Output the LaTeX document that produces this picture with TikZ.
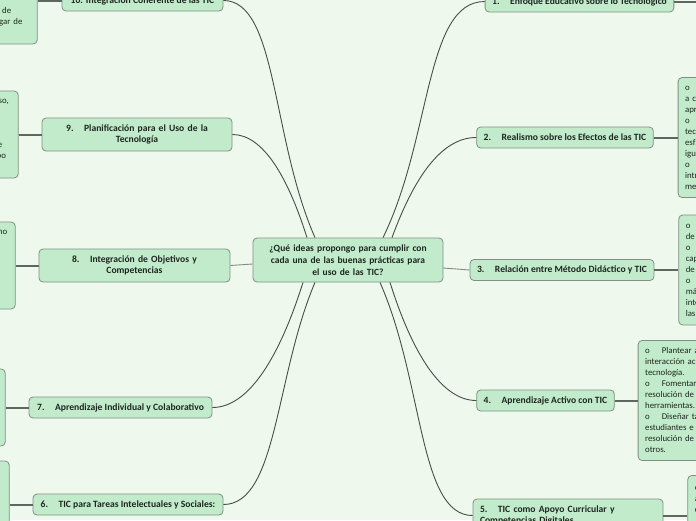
\documentclass[tikz,border=0pt]{standalone}
\usepackage{fontspec}
\setmainfont{Carlito}
\usetikzlibrary{positioning}

\definecolor{bgcol}{RGB}{239,248,236}
\definecolor{boxfill}{RGB}{193,235,203}
\definecolor{boxline}{RGB}{126,145,130}
\definecolor{stemcol}{RGB}{92,104,95}
\definecolor{curvecol}{RGB}{70,78,72}
\definecolor{sidecol}{RGB}{130,140,132}
\definecolor{txtcol}{RGB}{30,38,32}

\newcommand{\nr}[1]{#1.\hspace{10.5pt}}

\begin{document}
\begin{tikzpicture}[x=1pt,y=-1pt,
    topic/.style={draw=boxline, fill=boxfill, rounded corners=4pt, line width=0.8pt,
      text=txtcol, font=\bfseries\fontsize{9.6}{11}\selectfont, inner xsep=7pt,
      minimum height=21pt, align=center},
    question/.style={topic, font=\bfseries\fontsize{9.5}{12}\selectfont,
      text width=176pt, minimum height=44pt},
    detail/.style={draw=boxline, fill=boxfill, rounded corners=4pt, line width=0.8pt,
      text=txtcol, font=\fontsize{8.8}{11}\selectfont, inner xsep=7pt,
      text width=90pt, align=left, execute at begin node=\strut, execute at end node=\strut},
    link/.style={draw=curvecol, line width=0.9pt},
    side/.style={draw=sidecol, line width=0.9pt},
    stem/.style={draw=stemcol, line width=2pt}]

    \useasboundingbox (0,0) rectangle (696,520);
    \fill [bgcol] (0,0) rectangle (696,520);

    \node (q) [question] at (348,260) {¿Qué ideas propongo para cumplir con\\cada una de las buenas prácticas para\\el uso de las TIC?};

    % right side
    \node (t1) [topic, minimum width=187pt] at (579.5,1.5) {\nr{1}Enfoque Educativo sobre lo Tecnológico};
    \node (t2) [topic, minimum width=176pt] at (565,137.5) {\nr{2}Realismo sobre los Efectos de las TIC};
    \node (t3) [topic, minimum width=182pt] at (562,270) {\nr{3}Relación entre Método Didáctico y TIC};
    \node (t4) [topic, minimum width=137pt] at (545.5,400.5) {\nr{4}Aprendizaje Activo con TIC};
    \node (t5) [topic, text width=176pt, align=left, minimum height=33pt] at (568,515.5) {\nr{5}TIC como Apoyo Curricular y\\Competencias Digitales};

    % left side
    \node (t6) [topic, minimum width=190pt] at (128,504.5) {\nr{6}TIC para Tareas Intelectuales y Sociales:};
    \node (t7) [topic, minimum width=183pt] at (120.5,407.5) {\nr{7}Aprendizaje Individual y Colaborativo};
    \node (t8) [topic, text width=177pt, minimum height=33pt] at (134.5,265.5) {\nr{8}Integración de Objetivos y\\Competencias};
    \node (t9) [topic, text width=176pt, minimum height=33pt] at (137,134.5) {\nr{9}Planificación para el Uso de la\\Tecnología};
    \node (t10) [topic, minimum width=161pt] at (142.5,0.5) {10.\hspace{3pt}Integración Coherente de las TIC};

    % details
    \coordinate [right=27pt of t1] (d1);
    \node (d2) [detail, minimum height=120pt, right=24pt of t2] {o\\a c\\apr\\o\\tec\\esf\\igu\\o\\intr\\me};
    \node (d3) [detail, minimum height=110pt, right=24pt of t3] {o\\de c\\o\\cap\\de a\\o\\má\\inte\\las};
    \node (d4) [detail, minimum height=120pt, right=23pt of t4] {o\hspace{12pt}Plantear a\\interacción ac\\tecnología.\\o\hspace{12pt}Fomentar\\resolución de\\herramientas.\\o\hspace{12pt}Diseñar ta\\estudiantes e\\resolución de\\otros.};
    \node (d5) [detail, minimum height=80pt, right=24pt of t5] {o\\a\\c\\~\\~\\~};
    \node (d6) [detail, minimum height=87pt, left=23pt of t6] {};
    \node (d7) [detail, minimum height=77pt, left=23pt of t7] {};
    \node (d8) [detail, minimum height=87pt, left=23pt of t8] {\hspace*{79.7pt}no\\~\\~\\~\\~\\~\\~};
    \node (d9) [detail, minimum height=87pt, left=23pt of t9] {\hspace*{77.5pt}so,\\~\\~\\~\\\hspace*{76.6pt}e\\\hspace*{75.5pt}po\\~};
    \node (d10) [detail, minimum height=87pt, left=24pt of t10] {~\\~\\~\\~\\\hspace*{62pt}de\\\hspace*{59pt}gar de\\~};

    % curves from the question
    \draw [link] ([xshift=35pt]q.north) .. controls +(49,-100) and +(-60,0) .. (t1.west);
    \draw [link] ([xshift=44pt]q.north) .. controls +(22,-60) and +(-35,0) .. (t2.west);
    \draw [link] ([xshift=42pt]q.south) .. controls +(22,70) and +(-35,0) .. (t4.west);
    \draw [link] ([xshift=32pt]q.south) .. controls +(44,100) and +(-54,0) .. (t5.west);
    \draw [link] ([xshift=-33pt]q.south) .. controls +(-40,94) and +(54,0) .. (t6.east);
    \draw [link] ([xshift=-45pt]q.south) .. controls +(-23,73) and +(37,0) .. (t7.east);
    \draw [link] ([xshift=-41pt]q.north) .. controls +(-19,-60) and +(31,0) .. (t9.east);
    \draw [link] ([xshift=-33pt]q.north) .. controls +(-44,-100) and +(54,0) .. (t10.east);
    \draw [side] ([yshift=-4pt]q.west) -- (t8.east);
    \draw [side] ([yshift=-8pt]q.east) -- (t3.west);

    % stems to details
    \draw [stem] (t1) -- (d1);
    \draw [stem] (t2) -- (d2);
    \draw [stem] (t3) -- (d3);
    \draw [stem] (t4) -- (d4);
    \draw [stem] (t5) -- (d5);
    \draw [stem] (t6) -- (d6);
    \draw [stem] (t7) -- (d7);
    \draw [stem] (t8) -- (d8);
    \draw [stem] (t9) -- (d9);
    \draw [stem] (t10) -- (d10);
\end{tikzpicture}
\end{document}
